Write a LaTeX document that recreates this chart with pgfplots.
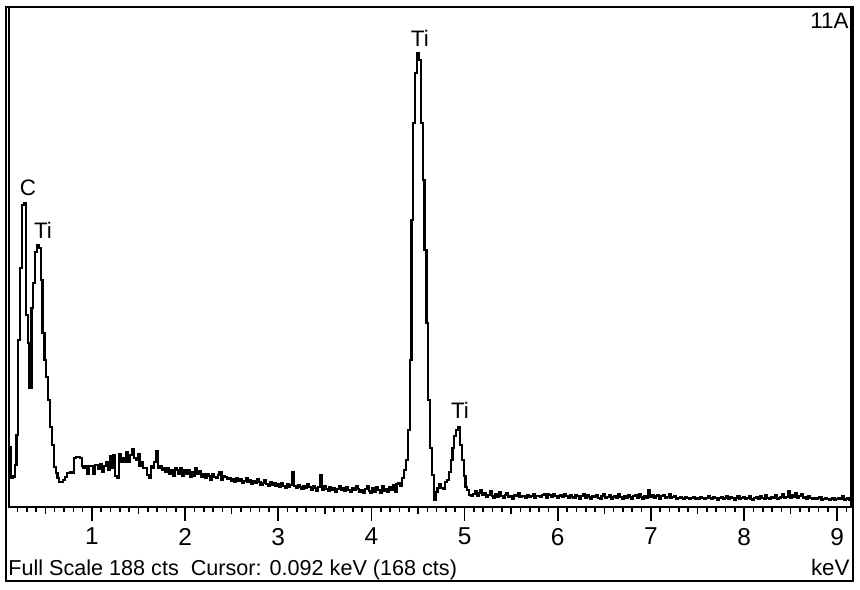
\documentclass[border=0pt]{standalone}
\usepackage{pgfplots}
\usepackage{pgfplotstable}
\usepackage{fontspec}
\setmainfont{Liberation Sans}
\pgfplotsset{compat=1.18}
\pgfplotstableread{
x y
0.12 22.6
0.14 10.9
0.16 11.5
0.18 15.8
0.20 27.1
0.22 62.8
0.24 89.9
0.26 113.6
0.28 114.3
0.30 72.2
0.32 61.7
0.34 44.7
0.36 74.8
0.38 84.2
0.40 95.9
0.42 98.5
0.44 97.4
0.46 85.4
0.48 65.4
0.50 55.3
0.52 48.9
0.54 40.2
0.56 30.1
0.58 23.3
0.60 15.0
0.62 12.8
0.64 10.9
0.66 9.4
0.68 9.4
0.70 10.2
0.72 11.3
0.74 12.8
0.76 12.8
0.78 13.2
0.80 12.8
0.82 18.4
0.84 18.8
0.86 18.8
0.88 18.4
0.90 15.4
0.92 14.7
0.94 15.4
0.96 12.4
0.98 15.4
1.00 15.4
1.02 12.4
1.04 15.8
1.06 15.8
1.08 14.3
1.10 16.2
1.12 13.2
1.14 15.4
1.16 16.9
1.18 13.9
1.20 19.2
1.22 14.7
1.24 19.6
1.26 11.7
1.28 10.9
1.30 19.9
1.32 16.9
1.34 18.4
1.36 16.9
1.38 20.7
1.40 16.9
1.42 19.6
1.44 21.8
1.46 18.4
1.48 17.7
1.50 19.9
1.52 15.4
1.54 16.9
1.56 14.7
1.58 14.7
1.60 12.0
1.62 10.9
1.64 15.4
1.66 14.7
1.68 16.9
1.70 21.1
1.72 14.7
1.74 15.4
1.76 13.9
1.78 14.7
1.80 13.2
1.82 14.7
1.84 12.4
1.86 13.9
1.88 11.7
1.90 14.7
1.92 13.9
1.94 12.4
1.96 14.7
1.98 11.7
2.00 13.9
2.02 12.4
2.04 13.9
2.06 11.3
2.08 13.2
2.10 11.7
2.12 14.7
2.14 12.4
2.16 13.5
2.18 11.3
2.20 12.4
2.22 10.9
2.24 12.4
2.26 11.7
2.28 10.2
2.30 12.4
2.32 11.3
2.34 10.9
2.36 12.0
2.38 13.2
2.40 10.2
2.42 11.7
2.44 11.3
2.46 10.5
2.48 10.9
2.50 9.8
2.52 10.5
2.54 9.4
2.56 10.9
2.58 9.8
2.60 10.5
2.62 9.0
2.64 9.8
2.66 10.9
2.68 9.4
2.70 10.2
2.72 8.6
2.74 9.8
2.76 9.0
2.78 10.5
2.80 9.4
2.82 8.3
2.84 9.0
2.86 10.2
2.88 8.6
2.90 7.9
2.92 9.4
2.94 8.3
2.96 9.0
2.98 7.9
3.00 8.6
3.02 7.5
3.04 9.0
3.06 7.9
3.08 7.1
3.10 8.6
3.12 7.5
3.14 8.3
3.16 13.2
3.18 7.9
3.20 7.1
3.22 8.3
3.24 7.5
3.26 6.8
3.28 7.9
3.30 7.1
3.32 8.6
3.34 7.5
3.36 6.4
3.38 7.9
3.40 7.1
3.42 6.0
3.44 7.5
3.46 12.0
3.48 6.4
3.50 7.9
3.52 6.8
3.54 6.0
3.56 7.5
3.58 6.4
3.60 7.1
3.62 5.6
3.64 6.8
3.66 7.9
3.68 6.4
3.70 7.1
3.72 6.0
3.74 7.5
3.76 6.4
3.78 5.6
3.80 7.1
3.82 6.4
3.84 7.9
3.86 6.8
3.88 5.6
3.90 6.4
3.92 5.3
3.94 6.8
3.96 7.9
3.98 6.0
4.00 5.3
4.02 7.1
4.04 5.6
4.06 7.5
4.08 6.4
4.10 5.3
4.12 7.9
4.14 6.0
4.16 6.8
4.18 5.6
4.20 7.5
4.22 6.4
4.24 8.3
4.26 5.6
4.28 8.6
4.30 9.0
4.32 7.9
4.34 10.9
4.36 13.9
4.38 17.7
4.40 29.0
4.42 55.3
4.44 107.9
4.46 144.4
4.48 163.2
4.50 170.7
4.52 168.1
4.54 144.4
4.56 122.9
4.58 96.6
4.60 69.2
4.62 40.2
4.64 22.2
4.66 12.0
4.68 2.6
4.70 5.6
4.72 7.1
4.74 8.6
4.76 7.1
4.78 6.8
4.80 9.4
4.82 10.2
4.84 13.2
4.86 17.7
4.88 22.2
4.90 26.7
4.92 29.0
4.94 30.1
4.96 23.3
4.98 17.7
5.00 11.7
5.02 7.5
5.04 6.4
5.06 4.5
5.08 4.1
5.10 4.9
5.12 6.0
5.14 4.1
5.16 5.3
5.18 6.4
5.20 4.5
5.22 5.3
5.24 3.8
5.26 4.5
5.28 6.0
5.30 4.1
5.32 3.4
5.34 4.9
5.36 3.8
5.38 5.6
5.40 4.1
5.42 3.4
5.44 4.5
5.46 5.3
5.48 3.8
5.50 4.1
5.52 3.0
5.54 4.5
5.56 4.1
5.58 5.3
5.60 3.8
5.62 4.1
5.64 4.1
5.66 3.4
5.68 4.5
5.70 3.8
5.72 4.1
5.74 4.9
5.76 3.4
5.78 4.1
5.80 4.1
5.82 3.8
5.84 4.5
5.86 4.9
5.88 3.4
5.90 4.9
5.92 4.5
5.94 3.8
5.96 4.9
5.98 4.1
6.00 3.4
6.02 4.1
6.04 4.5
6.06 3.8
6.08 4.9
6.10 4.1
6.12 3.4
6.14 4.5
6.16 3.8
6.18 3.4
6.20 4.5
6.22 4.1
6.24 3.0
6.26 4.1
6.28 4.9
6.30 3.4
6.32 4.5
6.34 3.8
6.36 3.0
6.38 4.1
6.40 3.8
6.42 4.5
6.44 3.4
6.46 3.0
6.48 4.1
6.50 4.9
6.52 3.4
6.54 3.8
6.56 4.5
6.58 3.0
6.60 3.8
6.62 4.1
6.64 3.4
6.66 4.9
6.68 3.8
6.70 3.0
6.72 4.1
6.74 3.4
6.76 4.5
6.78 3.8
6.80 3.0
6.82 4.1
6.84 4.5
6.86 3.4
6.88 4.9
6.90 3.8
6.92 3.0
6.94 4.1
6.96 3.4
6.98 6.4
7.00 3.8
7.02 4.5
7.04 3.4
7.06 4.1
7.08 4.5
7.10 3.0
7.12 4.1
7.14 4.5
7.16 3.4
7.18 3.8
7.20 4.9
7.22 3.4
7.24 3.8
7.26 4.1
7.28 3.0
7.30 3.4
7.32 3.8
7.34 3.4
7.36 3.0
7.38 3.8
7.40 3.4
7.42 3.0
7.44 3.4
7.46 3.8
7.48 3.0
7.50 3.4
7.52 3.0
7.54 3.8
7.56 3.4
7.58 3.0
7.60 3.4
7.62 4.1
7.64 3.4
7.66 3.0
7.68 3.8
7.70 3.4
7.72 2.6
7.74 3.4
7.76 3.8
7.78 3.0
7.80 3.4
7.82 4.1
7.84 3.0
7.86 3.8
7.88 3.4
7.90 2.6
7.92 3.4
7.94 4.1
7.96 3.0
7.98 3.4
8.00 3.8
8.02 3.0
8.04 3.4
8.06 4.1
8.08 3.0
8.10 2.6
8.12 3.4
8.14 3.8
8.16 3.0
8.18 4.1
8.20 3.4
8.22 3.0
8.24 4.5
8.26 3.4
8.28 3.0
8.30 3.8
8.32 3.4
8.34 4.5
8.36 3.0
8.38 3.4
8.40 3.8
8.42 4.9
8.44 3.4
8.46 3.8
8.48 6.0
8.50 3.4
8.52 4.5
8.54 3.8
8.56 5.3
8.58 3.4
8.60 4.1
8.62 4.9
8.64 3.4
8.66 3.8
8.68 3.0
8.70 4.1
8.72 3.4
8.74 3.0
8.76 3.4
8.78 3.0
8.80 3.4
8.82 3.8
8.84 2.6
8.86 3.0
8.88 3.4
8.90 3.0
8.92 2.6
8.94 3.0
8.96 3.4
8.98 2.6
9.00 3.0
9.02 3.4
9.04 3.0
9.06 4.1
9.08 2.6
9.10 3.0
9.12 3.4
9.14 2.6
}\spec
\begin{document}
\begin{tikzpicture}[font=\fontsize{11.2}{13}\selectfont]
\begin{axis}[
  name=ax,
  scale only axis,
  width=421pt, height=250pt,
  xmin=0.1095, xmax=9.148,
  ymin=0, ymax=188,
  axis line style={line width=1pt},
  xtick={1,2,3,4,5,6,7,8,9},
  minor xtick={0.2,0.3,...,9.1},
  extra x ticks={0.5,1.5,2.5,3.5,4.5,5.5,6.5,7.5,8.5},
  extra x tick labels={},
  extra x tick style={major tick length=3.6pt},
  ytick=\empty,
  xtick pos=bottom,
  tick align=outside,
  major tick length=6.8pt,
  minor tick length=2.6pt,
  tick style={black, line width=0.8pt},
  /pgf/number format/assume math mode=true,
  xticklabel style={font=\fontsize{12.2}{14}\selectfont, inner sep=1pt, yshift=-2.5pt},
  clip=false,
]
\addplot[const plot mark mid, black, line width=1.1pt, line join=miter] table[x=x,y=y] {\spec};
\node[inner sep=0, anchor=base] at (axis cs:4.52,173) {Ti};
\node[inner sep=0, anchor=base] at (axis cs:0.313,117) {C};
\node[inner sep=0, anchor=base] at (axis cs:0.474,100.8) {Ti};
\node[inner sep=0, anchor=base] at (axis cs:4.95,33.1) {Ti};
\node[inner sep=0, anchor=base east] at (axis cs:9.126,180.1) {11A};
\end{axis}
\draw[line width=1pt] ([xshift=-1.5pt]ax.north west) rectangle ([xshift=1pt,yshift=-37pt]ax.south east);
\node[inner sep=0, anchor=base west] at ([xshift=-0.5pt,yshift=-34pt]ax.south west) {\fontsize{10.8}{13}\selectfont Full Scale 188 cts~~Cursor: 0.092 keV (168 cts)};
\node[inner sep=0, anchor=base east] at ([xshift=-0.5pt,yshift=-34pt]ax.south east) {keV};
\pgfresetboundingbox
\path[use as bounding box] ([xshift=-4.5pt,yshift=-41pt]ax.south west) rectangle ([xshift=425.5pt,yshift=3.5pt]ax.north west);
\end{tikzpicture}
\end{document}
